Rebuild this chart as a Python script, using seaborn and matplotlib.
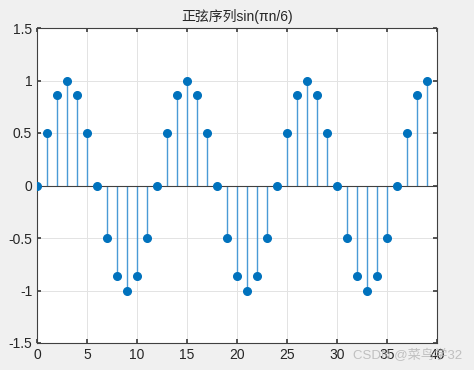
import matplotlib
matplotlib.use("Agg")
import matplotlib.pyplot as plt
import seaborn as sns
import numpy as np

n = list(range(40))
values = [0, 0.5, 0.866, 1, 0.866, 0.5, 0, -0.5, -0.866, -1, -0.866, -0.5,
          0, 0.5, 0.866, 1, 0.866, 0.5, 0, -0.5, -0.866, -1, -0.866, -0.5,
          0, 0.5, 0.866, 1, 0.866, 0.5, 0, -0.5, -0.866, -1, -0.866, -0.5,
          0, 0.5, 0.866, 1]
title = "正弦序列sin(πn/6)"
xticks = [0, 5, 10, 15, 20, 25, 30, 35, 40]
yticks = [-1.5, -1, -0.5, 0, 0.5, 1, 1.5]
yticklabels = ["-1.5", "-1", "-0.5", "0", "0.5", "1", "1.5"]

sns.set_theme(style="white")
plt.rcParams['font.family'] = ['Liberation Sans', 'Noto Sans CJK SC', 'DejaVu Sans']

fig = plt.figure(figsize=(4.74, 3.7), dpi=100, facecolor="#f0f0f0")
ax = fig.add_axes([37/474, 1-343/370, 400/474, 315/370])
ax.set_facecolor("white")

ml, sl, bl = ax.stem(n, values, basefmt=" ")
plt.setp(ml, color="#0072BD", markersize=5.5, zorder=3)
plt.setp(sl, color="#4a9ad6", linewidth=1.0)
ax.axhline(0, color="#404040", linewidth=0.8, zorder=2)

ax.set_xlim(0, 40)
ax.set_ylim(-1.5, 1.5)
ax.set_xticks(xticks)
ax.set_yticks(yticks)
ax.set_yticklabels(yticklabels)
ax.grid(True, color="#e3e3e3", linewidth=0.7)
ax.set_axisbelow(True)
ax.tick_params(direction="in", length=3, color="#404040", labelsize=10,
               labelcolor="#262626", top=True, right=True, bottom=True, left=True)
for s in ax.spines.values():
    s.set_color("#404040")
    s.set_linewidth(0.8)
ax.set_title(title, fontsize=10, color="#262626", pad=5)

fig.text(0.975, 0.022, "CSDN @菜鸟学32", ha="right", va="bottom",
         fontsize=9.5, color="#b0b0b0", alpha=0.75)

fig.savefig("out.png", dpi=100, facecolor=fig.get_facecolor())
